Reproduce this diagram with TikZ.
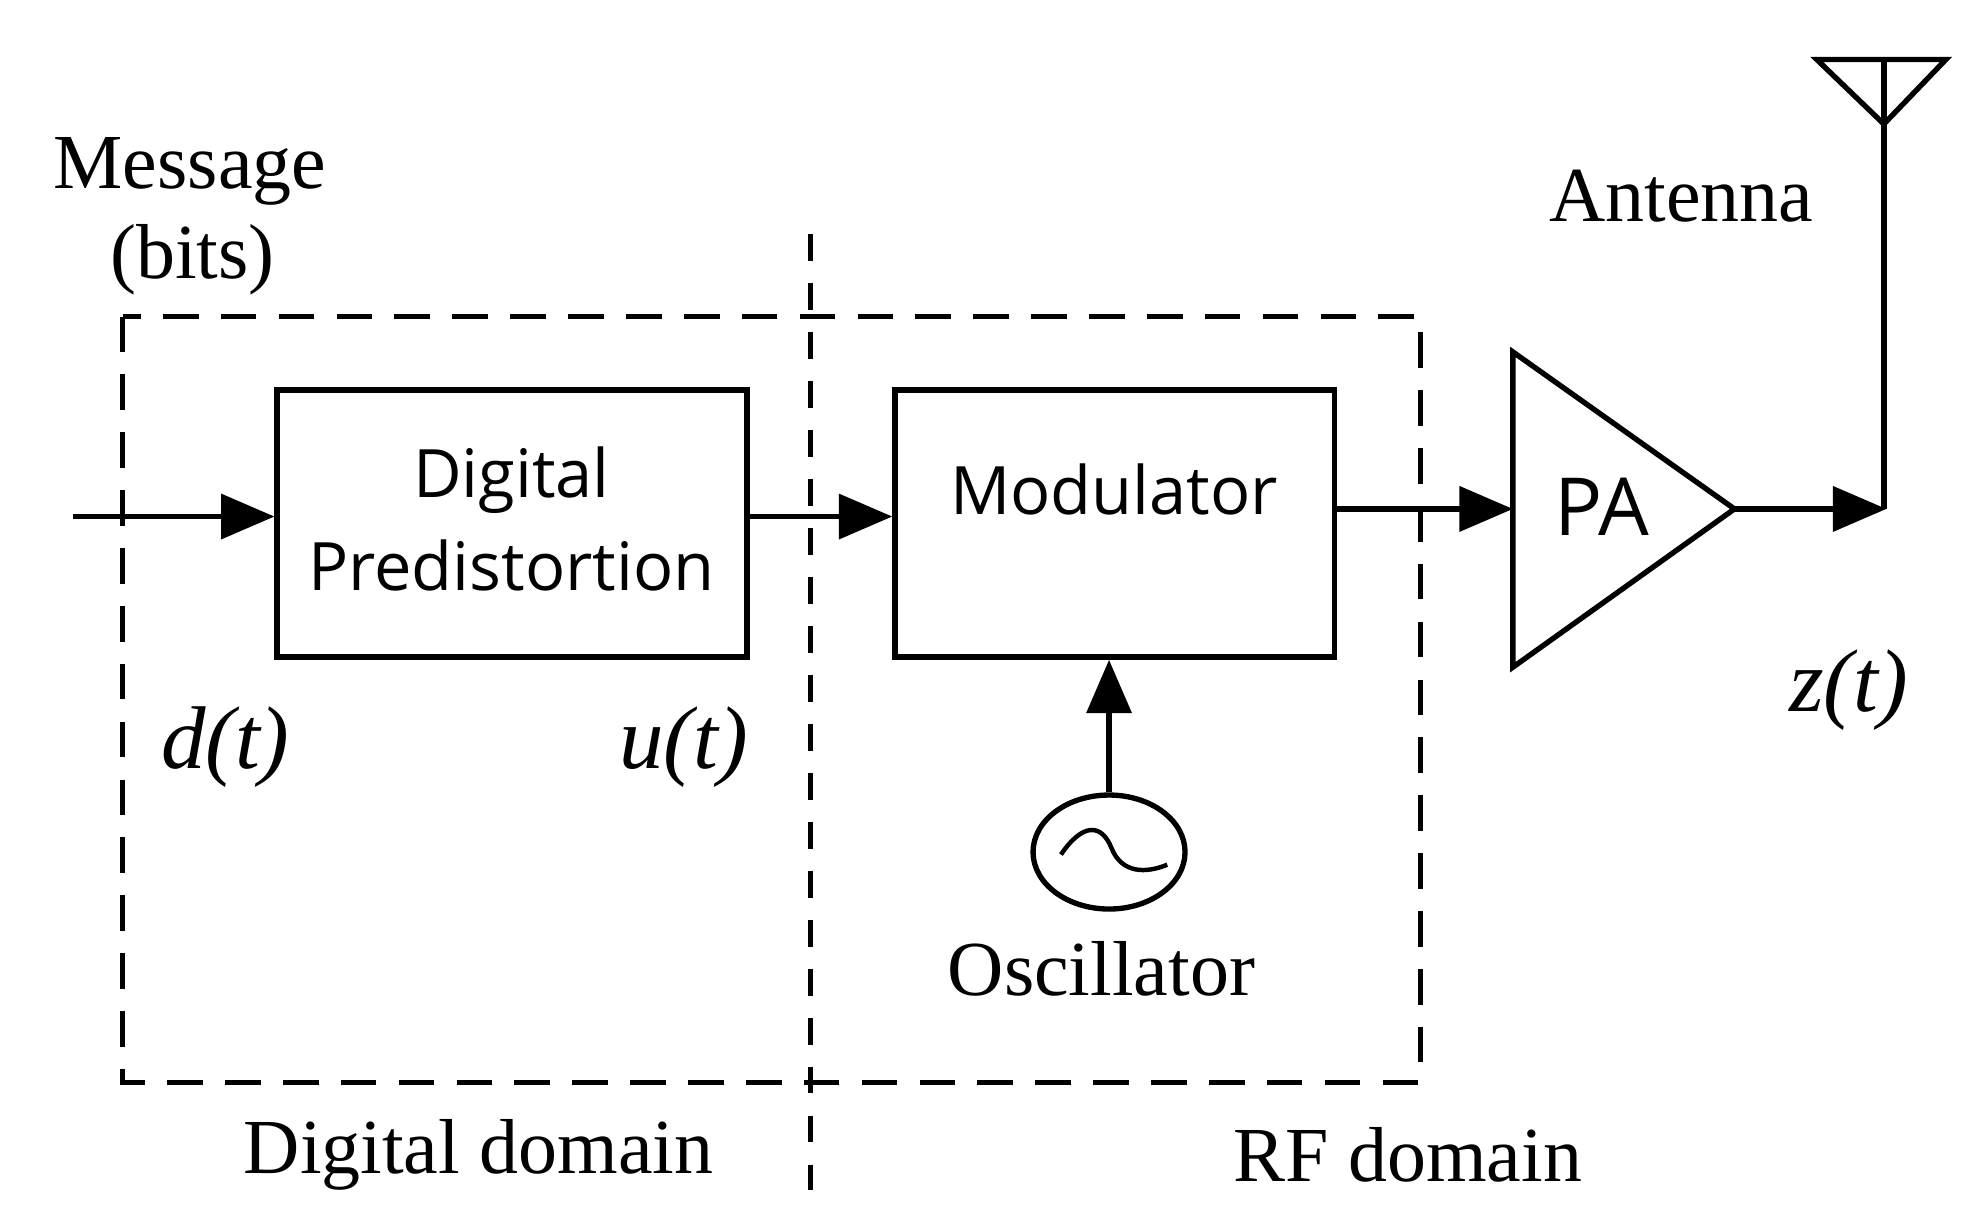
\documentclass[tikz,border=0pt]{standalone}
\usepackage{fontspec}
\setmainfont{Liberation Serif}
\newfontfamily\sansf{Open Sans}
\usetikzlibrary{arrows.meta,shapes.geometric}
\begin{document}
\begin{tikzpicture}[x=0.01cm,y=-0.01cm,line width=1.2pt,
  arr/.style={-{Triangle[length=12pt,width=10pt]}},
  lab/.style={font=\fontsize{17.5}{20}\selectfont},
  slab/.style={font=\sansf\fontsize{15}{21}\selectfont,align=center},
  dsh/.style={dash pattern=on 8pt off 5pt}]
\useasboundingbox (0,0) rectangle (1560,961);
\draw[dsh] (97,250) rectangle (1122,855);
\draw[dash pattern=on 6pt off 5pt] (640,185) -- (640,940);
\node[draw,minimum width=3.71cm,minimum height=2.11cm,inner sep=0pt] (dpd) at (404.5,413.5) {};
\node[slab] at (404,410) {Digital\\Predistortion};
\node[draw,minimum width=3.47cm,minimum height=2.11cm,inner sep=0pt] (mod) at (880.5,413.5) {};
\node[slab] at (880,387) {Modulator};
\coordinate (in) at (58,408);
\draw[arr] (in) -- (in -| dpd.west);
\draw[arr] (dpd.east |- in) -- (mod.west |- in);
\coordinate (paT) at (1195,278);
\coordinate (paB) at (1195,527);
\coordinate (paL) at (1195,402);
\coordinate (paR) at (1370,402);
\draw (paT) -- (paR) -- (paB) -- cycle;
\node[font=\sansf\fontsize{18}{20}\selectfont] (patext) at (1265,400) {PA};
\draw[arr] (mod.east |- paL) -- (paL);
\coordinate (ant) at (1490,402);
\draw[arr] (paR) -- (ant);
\coordinate (antT) at (1488,47);
\draw (1488,402) -- (antT);
\draw (1435,47) -- (1537,47) -- (1488,98) -- cycle;
\node[draw,ellipse,inner sep=0pt,minimum width=1.2cm,minimum height=0.9cm] (osc) at (876,673) {};
\draw[line width=1pt] (838,675) .. controls (855,650) and (870,650) .. (878,670) .. controls (886,690) and (905,690) .. (922,683);
\draw[arr] (osc.north) -- (osc.north |- mod.south);
\node[lab] at (150,135) {Message};
\node[lab] at (152,205) {(bits)};
\node[lab] at (1328,155) {Antenna};
\node[lab] at (870,765) {Oscillator};
\node[lab] at (378,912) {Digital domain};
\node[lab] at (1112,912) {RF domain};
\node[font=\fontsize{20}{22}\selectfont\itshape] at (178,590) {d(t)};
\node[font=\fontsize{20}{22}\selectfont\itshape] at (540,590) {u(t)};
\node[font=\fontsize{20}{22}\selectfont\itshape] at (1460,545) {z(t)};
\end{tikzpicture}
\end{document}
